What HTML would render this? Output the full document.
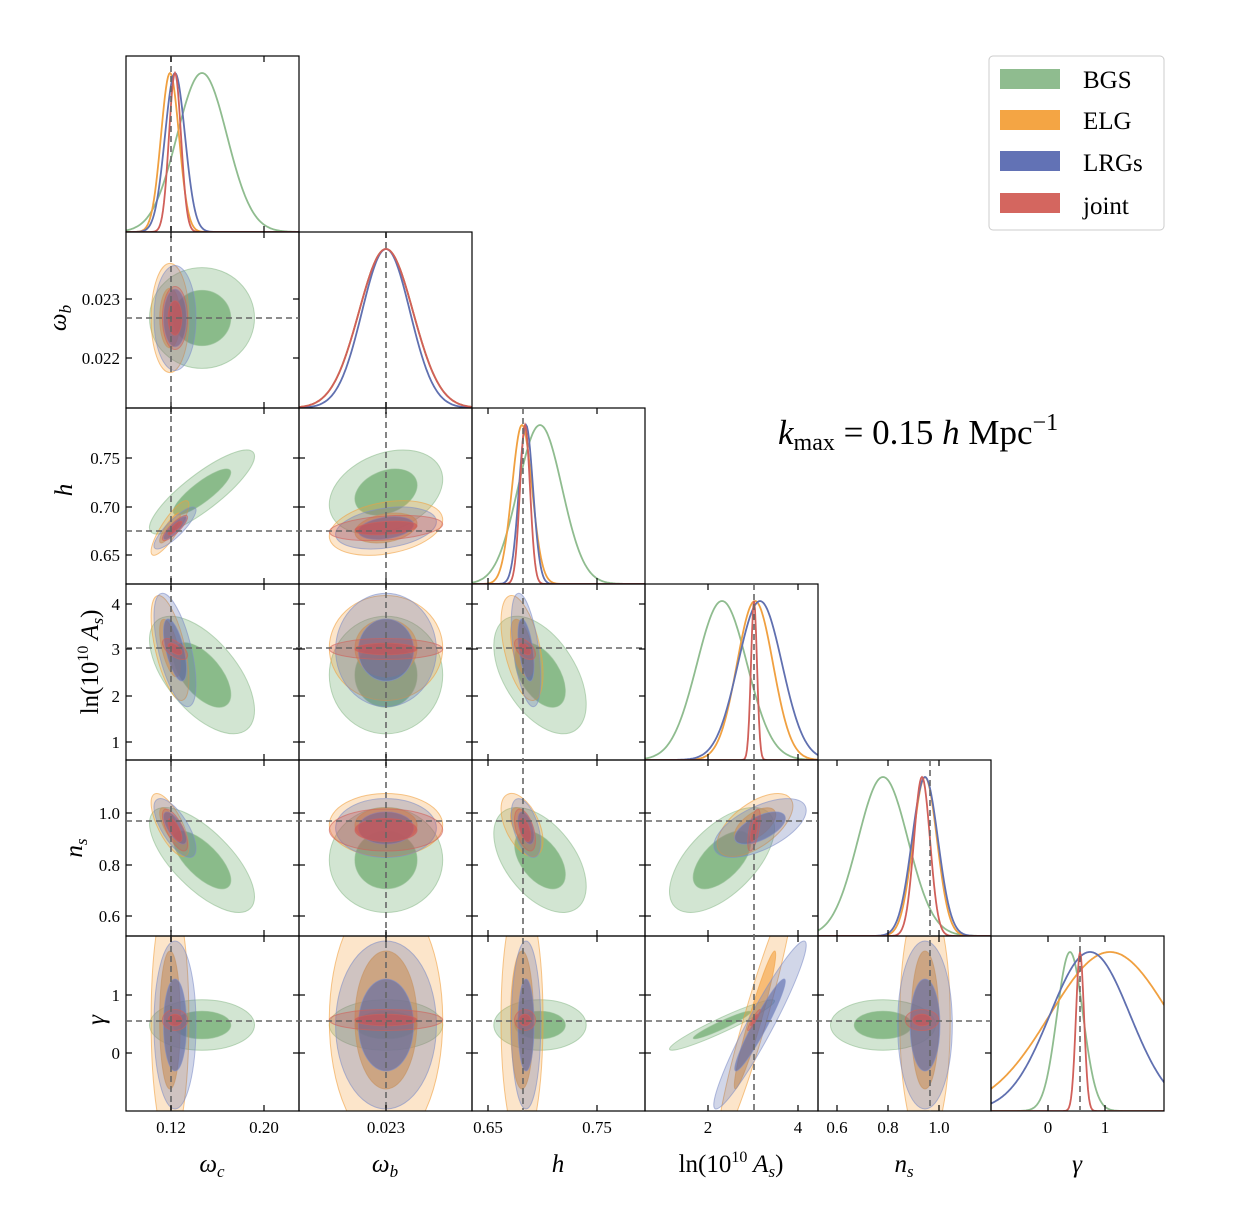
<!DOCTYPE html>
<html><head><meta charset="utf-8"><style>
body{margin:0;background:#fff}
svg{display:block}
text{font-family:"Liberation Serif",serif;fill:#000}
</style></head><body>
<svg id="s" width="1234" height="1216" viewBox="0 0 1234 1216" xmlns="http://www.w3.org/2000/svg">
<defs id="defs"></defs>
<g id="plots"></g>
<g id="frames" fill="none" stroke="#000" stroke-width="1.2"></g>
<g font-size="17" text-anchor="middle">
<text x="171" y="1133">0.12</text><text x="264" y="1133">0.20</text>
<text x="386" y="1133">0.023</text>
<text x="488" y="1133">0.65</text><text x="597" y="1133">0.75</text>
<text x="708" y="1133">2</text><text x="798" y="1133">4</text>
<text x="837" y="1133">0.6</text><text x="888" y="1133">0.8</text><text x="939" y="1133">1.0</text>
<text x="1048" y="1133">0</text><text x="1105" y="1133">1</text>
</g>
<g font-size="17" text-anchor="end">
<text x="120" y="305">0.023</text><text x="120" y="364">0.022</text>
<text x="120" y="464">0.75</text><text x="120" y="513">0.70</text><text x="120" y="561">0.65</text>
<text x="120" y="610">4</text><text x="120" y="655">3</text><text x="120" y="702">2</text><text x="120" y="748">1</text>
<text x="120" y="819">1.0</text><text x="120" y="871">0.8</text><text x="120" y="922">0.6</text>
<text x="120" y="1001">1</text><text x="120" y="1059">0</text>
</g>
<g font-size="25" text-anchor="middle" font-style="italic">
<text x="212" y="1172">ω<tspan font-size="17" dy="5">c</tspan></text>
<text x="385" y="1172">ω<tspan font-size="17" dy="5">b</tspan></text>
<text x="558" y="1172">h</text>
<text x="731" y="1172" font-style="normal">ln(10<tspan font-size="16" dy="-10">10</tspan><tspan dy="10" font-style="italic"> A</tspan><tspan font-size="17" dy="5" font-style="italic">s</tspan><tspan dy="-5">)</tspan></text>
<text x="904" y="1172">n<tspan font-size="17" dy="5">s</tspan></text>
<text x="1077" y="1172">γ</text>
<text transform="translate(66,318) rotate(-90)">ω<tspan font-size="17" dy="5">b</tspan></text>
<text transform="translate(72,490) rotate(-90)">h</text>
<text transform="translate(98,662) rotate(-90)" font-style="normal">ln(10<tspan font-size="16" dy="-10">10</tspan><tspan dy="10" font-style="italic"> A</tspan><tspan font-size="17" dy="5" font-style="italic">s</tspan><tspan dy="-5">)</tspan></text>
<text transform="translate(82,848) rotate(-90)">n<tspan font-size="17" dy="5">s</tspan></text>
<text transform="translate(104,1020) rotate(-90)">γ</text>
</g>
<rect x="989" y="56" width="175" height="174" rx="4" fill="#fff" stroke="#ccc"/>
<rect x="1000" y="69" width="60" height="20" fill="#8fbc8f"/>
<rect x="1000" y="110" width="60" height="20" fill="#f4a544"/>
<rect x="1000" y="151" width="60" height="20" fill="#6272b5"/>
<rect x="1000" y="193" width="60" height="20" fill="#d4665f"/>
<g font-size="25"><text x="1083" y="88">BGS</text><text x="1083" y="129">ELG</text><text x="1083" y="171">LRGs</text><text x="1083" y="214">joint</text></g>
<text x="778" y="444" font-size="35"><tspan font-style="italic">k</tspan><tspan font-size="24" dy="6">max</tspan><tspan dy="-6"> = 0.15 </tspan><tspan font-style="italic">h</tspan> Mpc<tspan font-size="24" dy="-14">−1</tspan></text>
</svg>
<script>
var NS="http://www.w3.org/2000/svg";
function el(t,a,p){var e=document.createElementNS(NS,t);for(var k in a)e.setAttribute(k,a[k]);p.appendChild(e);return e;}
var XB=[126,299,472,645,818,991,1164],YB=[56,232,408,584,760,936,1111];
var X=[[[202,25],[170,9],[175,10],[175,6]],[[386,27],[386,27],[386,24],[386,27]],[[540,22],[522,10],[526,7],[525,5]],[[722,25],[755,18],[760,22],[754,3]],[[883,25],[925,12],[925,13],[922,8]],[[1070,13],[1110,60],[1090,40],[1080,4]]];
var Y=[null,[[318,24],[318,26],[318,25],[318,15]],[[492,20],[528,13],[528,10],[528,6]],[[675,28],[648,25],[650,27],[649,5]],[[860,25],[825,15],[828,14],[830,10]],[[1025,12],[1020,60],[1025,40],[1020,5]]];
var R={"0,2":-0.85,"0,3":0.6,"0,4":0.7,"1,2":-0.3,"2,3":0.5,"2,4":0.5,"3,4":-0.6,"3,5":-0.95};
var FC=["#5a9e5a","#f5a03c","#5566aa","#d05050"],LC=["#8fbc8f","#f0a040","#8090c8","#d0605a"];
var defs=document.getElementById("defs"),plots=document.getElementById("plots"),fr=document.getElementById("frames");
for(var i=0;i<6;i++)for(var j=0;j<=i;j++){
 var x0=XB[j],x1=XB[j+1],y0=YB[i],y1=YB[i+1];
 var cp=el("clipPath",{id:"c"+i+"_"+j},defs);el("rect",{x:x0,y:y0,width:x1-x0,height:y1-y0},cp);
 var g=el("g",{"clip-path":"url(#c"+i+"_"+j+")"},plots);
 if(i==j){
  for(var d=0;d<4;d++){var c=X[j][d][0],s=X[j][d][1],pts=[];
   for(var x=x0;x<=x1;x+=1)pts.push(x+","+(y1-159*Math.exp(-0.5*Math.pow((x-c)/s,2))).toFixed(1));
   el("polyline",{points:pts.join(" "),fill:"none",stroke:d==2?"#6070b0":LC[d],"stroke-width":1.8},g);}
 }else{
  var r=R[j+","+i]||0;
  for(var d=0;d<4;d++){var cx=X[j][d][0],sx=X[j][d][1],cy=Y[i][d][0],sy=Y[i][d][1];
   var a=sx*sx,c2=sy*sy,b=r*sx*sy,th=0.5*Math.atan2(2*b,a-c2),m=(a+c2)/2,q=Math.sqrt((a-c2)*(a-c2)/4+b*b);
   var l1=Math.sqrt(m+q),l2=Math.sqrt(Math.max(m-q,1));
   [[2.1,0.27],[1.15,0.6]].forEach(function(k){
    el("ellipse",{cx:cx,cy:cy,rx:k[0]*l1,ry:k[0]*l2,transform:"rotate("+(th*180/Math.PI)+" "+cx+" "+cy+")",fill:FC[d],"fill-opacity":k[1],stroke:LC[d],"stroke-width":1,"stroke-opacity":0.6},g);});}
 }
 el("rect",{x:x0,y:y0,width:x1-x0,height:y1-y0},fr);
}
var TX=[171,386,523,754,930,1080],TY=[null,318,531,648,821,1021];
var dl=el("g",{stroke:"#666","stroke-width":1.6,"stroke-dasharray":"6,4",fill:"none"},document.getElementById("s"));
for(var j=0;j<6;j++)el("line",{x1:TX[j],y1:YB[j],x2:TX[j],y2:1111},dl);
for(var i=1;i<6;i++)el("line",{x1:126,y1:TY[i],x2:XB[i],y2:TY[i]},dl);
var tk=el("g",{stroke:"#000","stroke-width":1.2},document.getElementById("s"));
var XT=[[171,264],[386],[488,597],[708,798],[837,888,939],[1048,1105]];
var YT=[null,[299,358],[458,507,555],[604,649,696,742],[813,865,916],[995,1053]];
for(var i=0;i<6;i++)for(var j=0;j<=i;j++){
 XT[j].forEach(function(x){el("line",{x1:x,y1:YB[i+1],x2:x,y2:YB[i+1]-6},tk);el("line",{x1:x,y1:YB[i],x2:x,y2:YB[i]+6},tk);});
 if(i!=j&&YT[i])YT[i].forEach(function(y){el("line",{x1:XB[j],y1:y,x2:XB[j]+6,y2:y},tk);el("line",{x1:XB[j+1],y1:y,x2:XB[j+1]-6,y2:y},tk);});
}
</script>
</body></html>
